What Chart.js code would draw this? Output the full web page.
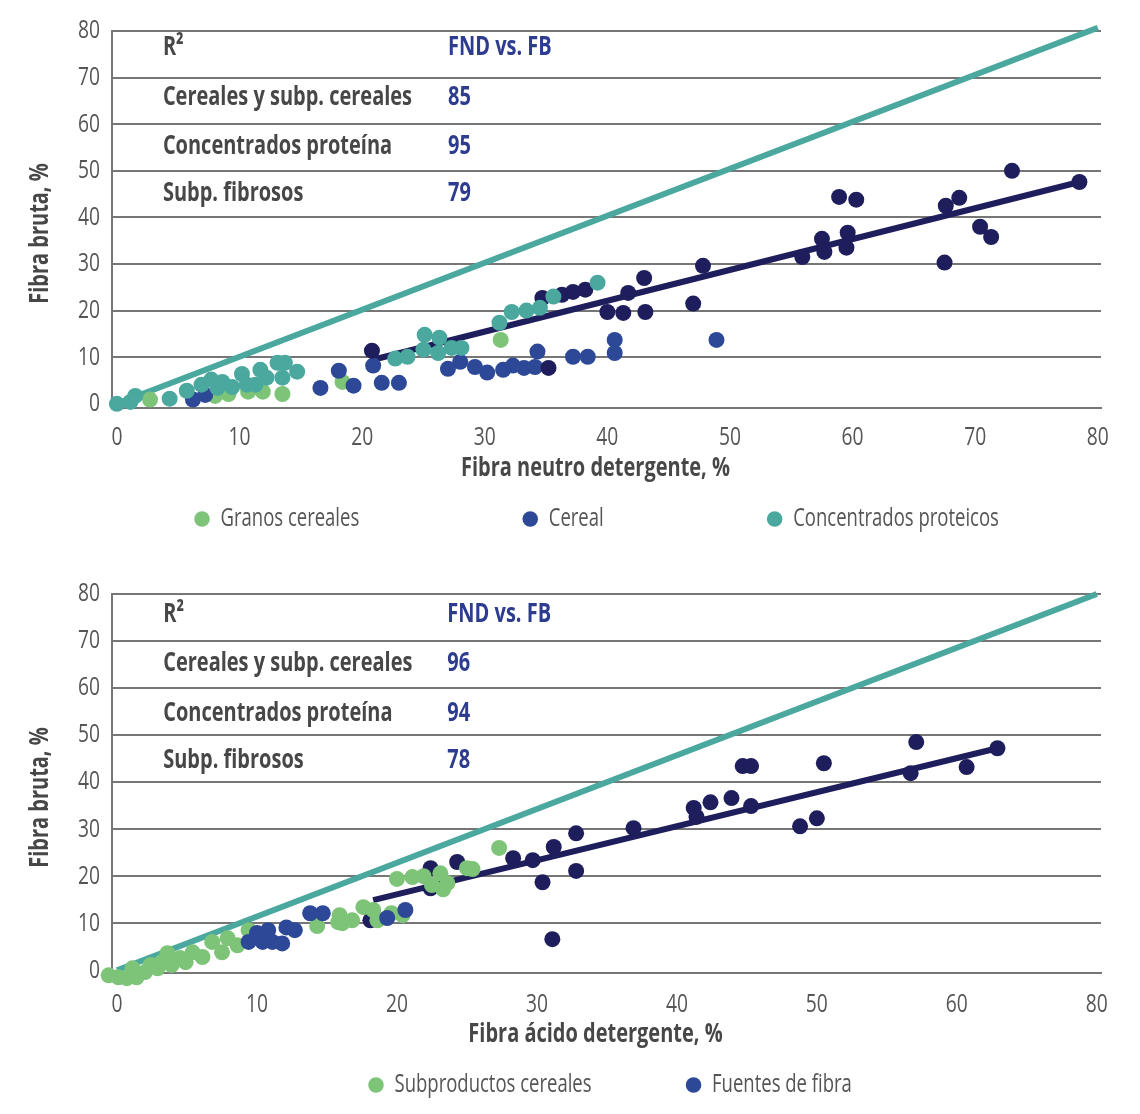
<!DOCTYPE html>
<html><head><meta charset="utf-8">
<script src="https://cdn.jsdelivr.net/npm/chart.js@4/dist/chart.umd.min.js"></script>
<style>
html,body{margin:0;padding:0;background:#fff;}
#w1{position:absolute;left:0;top:0;width:1140px;height:550px;}
#w2{position:absolute;left:0;top:560px;width:1140px;height:554px;}
</style></head><body>
<div id="w1"><canvas id="c1" width="1140" height="550"></canvas></div>
<div id="w2"><canvas id="c2" width="1140" height="554"></canvas></div>
<script>
// ---------- DATA ----------
// Chart 1: FND (x) vs FB (y)
const granosCereales = [[2.7,0.9],[8.0,1.7],[9.1,2.1],[10.7,2.6],[11.9,2.6],[13.5,2.1],[18.4,4.7],[31.3,13.7]];
const cereal = [[6.2,0.9],[7.2,1.9],[16.6,3.4],[18.1,7.1],[19.3,3.9],[20.9,8.2],[21.6,4.5],[23.0,4.5],[27.0,7.5],[28.0,9.0],[29.2,7.9],[30.2,6.7],[31.5,7.3],[32.3,8.2],[33.2,7.7],[34.1,7.9],[34.3,11.2],[37.2,10.1],[38.4,10.1],[40.6,13.7],[40.6,10.9],[48.9,13.7]];
const concentradosProteicos = [[0,0],[1.1,0.4],[1.5,1.7],[4.3,1.1],[5.7,2.8],[6.9,4.1],[7.7,5.2],[8.2,3.4],[8.6,4.7],[9.4,3.6],[10.2,6.4],[10.6,4.1],[11.3,4.1],[11.7,7.3],[12.2,5.6],[13.1,8.8],[13.7,8.8],[13.5,5.6],[14.7,6.9],[22.7,9.7],[23.7,10.1],[25.1,14.8],[25.0,11.6],[26.3,14.2],[26.2,10.9],[27.3,12.0],[28.1,12.0],[31.2,17.4],[32.2,19.7],[33.4,20.0],[34.5,20.6],[35.6,23.0],[39.2,26.0]];
const subpFibrosos1 = [[20.8,11.4],[35.2,7.7],[34.7,22.7],[36.3,23.4],[37.2,24.0],[38.2,24.5],[40.0,19.7],[41.3,19.5],[41.7,23.8],[43.0,27.0],[43.1,19.7],[47.0,21.5],[47.8,29.6],[55.9,31.5],[57.5,35.4],[57.7,32.6],[58.9,44.4],[60.3,43.8],[59.6,36.7],[59.5,33.5],[67.5,30.3],[67.6,42.5],[68.7,44.2],[70.4,38.0],[71.3,35.8],[73.0,50.0],[78.5,47.6]];
const refLine1 = [[0,0],[80,80.7]];
const fitLine1 = [[20.8,9.4],[78.5,47.6]];

// Chart 2: FAD (x) vs FB (y)
const subproductosCereales = [[-0.6,-1.1],[0.1,-1.5],[0.7,-1.7],[1.4,-1.5],[1.1,0.4],[2.0,-0.4],[2.4,1.1],[2.9,0.4],[3.2,1.7],[3.6,3.6],[3.9,1.1],[4.5,2.6],[4.9,1.7],[5.4,3.8],[6.1,2.8],[6.8,6.0],[7.5,3.8],[7.9,6.8],[8.6,5.3],[9.4,8.5],[14.3,9.4],[15.8,10.2],[15.9,11.7],[16.1,10.0],[16.8,10.6],[17.6,13.4],[18.3,12.8],[18.6,10.6],[19.6,12.1],[20.4,11.7],[20.0,19.4],[21.1,19.8],[21.9,20.0],[22.5,18.1],[23.1,20.6],[23.3,17.2],[23.6,18.5],[25.0,21.7],[25.4,21.5],[27.3,26.0]];
const fuentesFibra = [[9.4,6.0],[10.0,7.9],[10.4,6.0],[10.8,8.5],[11.1,6.0],[11.8,5.7],[12.1,9.1],[12.7,8.5],[13.8,12.1],[14.7,12.1],[19.3,11.1],[20.6,12.8]];
const subpFibrosos2 = [[18.1,10.6],[22.4,21.7],[22.4,17.4],[24.3,23.0],[28.3,23.8],[29.7,23.4],[30.4,18.7],[31.2,26.2],[31.1,6.6],[32.8,29.1],[32.8,21.1],[36.9,30.2],[41.2,34.5],[41.4,32.6],[42.4,35.7],[43.9,36.6],[45.3,34.9],[44.7,43.4],[45.3,43.4],[48.8,30.6],[50.0,32.3],[50.5,44.0],[56.7,41.9],[57.1,48.5],[60.7,43.2],[62.9,47.2]];
const refLine2 = [[0,0],[70,80]];
const fitLine2 = [[18.3,14.9],[62.9,47.2]];

// Tick labels / texts
const yTickValues = [0,10,20,30,40,50,60,70,80];
const xTickLabels1 = ['0','10','20','30','40','50','60','70','80'];
const xTickLabels2 = ['0','10','20','30','40','50','60','80'];
const yTitle = 'Fibra bruta, %';
const xTitle1 = 'Fibra neutro detergente, %';
const xTitle2 = 'Fibra ácido detergente, %';
const tableLabels = ['R²','Cereales y subp. cereales','Concentrados proteína','Subp. fibrosos'];
const tableValues1 = ['FND vs. FB','85','95','79'];
const tableValues2 = ['FND vs. FB','96','94','78'];

// ---------- STYLE ----------
const FONT = "'Open Sans','DejaVu Sans',sans-serif";
const SX = 0.74; // horizontal condensing of all canvas text (reference uses a condensed face)
(function(){
  const P = CanvasRenderingContext2D.prototype;
  const _fill = P.fillText, _meas = P.measureText;
  P.fillText = function(t, x, y, mw){
    this.save(); this.translate(x, y); this.scale(SX, 1);
    if (mw !== undefined) _fill.call(this, t, 0, 0, mw / SX); else _fill.call(this, t, 0, 0);
    this.restore();
  };
  P.measureText = function(t){
    const m = _meas.call(this, t);
    return {width: m.width * SX,
      actualBoundingBoxLeft: m.actualBoundingBoxLeft * SX, actualBoundingBoxRight: m.actualBoundingBoxRight * SX,
      actualBoundingBoxAscent: m.actualBoundingBoxAscent, actualBoundingBoxDescent: m.actualBoundingBoxDescent,
      fontBoundingBoxAscent: m.fontBoundingBoxAscent, fontBoundingBoxDescent: m.fontBoundingBoxDescent};
  };
})();
const C_GREEN = '#7dc478', C_BLUE = '#2c4896', C_TEAL = '#4aa89e', C_NAVY = '#1f1e5c';
const GRID = '#767676', TICK = '#555555', TITLE = '#474747', VALUE = '#2d3c8e';
Chart.defaults.font.family = FONT;

const toXY = arr => arr.map(p => ({x:p[0], y:p[1]}));

function pts(label, data, color, order, inLegend){
  return {label, data: toXY(data), backgroundColor: color, borderColor: color, pointBackgroundColor: color,
    pointBorderColor: color, pointRadius: 8, pointHoverRadius: 8, borderWidth: 0, pointBorderWidth: 0,
    order, clip: false, inLegend};
}
function line(label, data, color, width, order){
  return {label, data: toXY(data), showLine: true, borderColor: color, backgroundColor: color, borderWidth: width,
    pointRadius: 0, pointHoverRadius: 0, borderCapStyle: 'butt', order, clip: false, inLegend: false};
}

// R² table + axis titles drawn on the canvas
const textPlugin = {
  id: 'r2table',
  afterDatasetsDraw(chart, args, o) {
    const {ctx, chartArea: a} = chart; const x = chart.scales.x, y = chart.scales.y;
    ctx.save();
    ctx.font = 'bold 27px ' + FONT;
    ctx.textBaseline = 'middle'; ctx.textAlign = 'left';
    o.labels.forEach((t, i) => {
      const yy = y.getPixelForValue(o.rowY[i]);
      ctx.fillStyle = TITLE; ctx.fillText(t, x.getPixelForValue(o.labelX), yy);
      ctx.fillStyle = VALUE; ctx.fillText(o.values[i], x.getPixelForValue(o.valueX), yy);
    });
    ctx.fillStyle = TITLE; ctx.textAlign = 'center';
    ctx.fillText(o.xTitle, (a.left + a.right) / 2 + o.xTitleDX, a.bottom + o.xTitleDY);
    ctx.save();
    ctx.translate(o.yTitleX, (a.top + a.bottom) / 2 + o.yTitleDY);
    ctx.rotate(-Math.PI / 2);
    ctx.fillText(o.yTitle, 0, 0);
    ctx.restore();
    ctx.restore();
  }
};
// place the (single-row) legend: first item at firstX, row centred on centerY
const legendShift = {
  id: 'legendShift',
  afterLayout(chart, args, o) {
    const lg = chart.legend; if (!lg || !lg.legendHitBoxes) return;
    const P = lg.options.labels.padding;
    const total = lg.legendHitBoxes.reduce((s, hb) => s + hb.width + P, 0);
    lg.lineWidths = [total];
    lg.left = o.firstX - P;
    lg.right = o.firstX + total;
    lg.top = o.centerY - P - o.fontSize / 2;
    lg.bottom = o.centerY + o.fontSize;
  }
};

function makeChart(id, cfg){
  return new Chart(document.getElementById(id), {
    type: 'scatter',
    data: {datasets: cfg.datasets},
    plugins: [textPlugin, legendShift],
    options: {
      responsive: false, animation: false, events: [],
      layout: {padding: {top: cfg.padTop, right: 39, bottom: 12, left: 0}},
      scales: {
        x: {type: 'linear', min: cfg.xMin, max: cfg.xMax,
          afterFit(s){ s.height = cfg.xAxisH; },
          afterBuildTicks(s){ s.ticks = s.ticks.filter(t => t.value >= 0 && Math.abs(t.value % 10) < 1e-6); },
          ticks: {stepSize: 10, includeBounds: false, padding: cfg.xTickPad, color: TICK, font: {size: 26}, maxRotation: 0,
            callback: (v, i) => cfg.xLabels[i]},
          grid: {display: false, drawTicks: false},
          border: {display: true, color: GRID, width: 2},
          title: {display: false}
        },
        y: {min: cfg.yMin, max: 80,
          afterFit(s){ s.width = 112; },
          afterBuildTicks(s){ s.ticks = yTickValues.map(v => ({value: v})); },
          ticks: {padding: 12, color: TICK, font: {size: 26}},
          grid: {color: c => (c.tick && c.tick.value === 0) ? 'rgba(0,0,0,0)' : GRID, lineWidth: 2, drawTicks: false},
          border: {display: true, color: GRID, width: 2},
          title: {display: false}
        }
      },
      plugins: {
        tooltip: {enabled: false},
        legend: {position: 'bottom', align: 'center', maxHeight: cfg.legendH,
          labels: {usePointStyle: true, pointStyle: 'circle', boxWidth: 12, boxHeight: 11, padding: cfg.legendPad,
            color: TICK, font: {size: 25},
            filter: (item, data) => data.datasets[item.datasetIndex].inLegend,
            sort: (a, b) => a.datasetIndex - b.datasetIndex}
        },
        legendShift: {firstX: cfg.legendX, centerY: cfg.legendY, fontSize: 25},
        r2table: {labels: tableLabels, values: cfg.tableValues, labelX: cfg.labelX, valueX: cfg.valueX, rowY: cfg.rowY,
          xTitle: cfg.xTitle, yTitle: yTitle, xTitleDX: -11, xTitleDY: cfg.xTitleDY, yTitleX: 40, yTitleDY: 14}
      }
    }
  });
}

makeChart('c1', {
  datasets: [
    pts('Granos cereales', granosCereales, C_GREEN, 4, true),
    pts('Cereal', cereal, C_BLUE, 3, true),
    pts('Concentrados proteicos', concentradosProteicos, C_TEAL, 1, true),
    pts('Subp. fibrosos', subpFibrosos1, C_NAVY, 2, false),
    line('Regresión', fitLine1, C_NAVY, 6, 5),
    line('1:1', refLine1, C_TEAL, 6, 6)
  ],
  padTop: 31, xMin: -0.4, xMax: 80.26, yMin: -0.9, xAxisH: 80, xTickPad: 14, xLabels: xTickLabels1,
  xTitle: xTitle1, xTitleDY: 60, legendH: 50, legendPad: 165, legendX: 196, legendY: 519,
  tableValues: tableValues1, labelX: 3.75, valueX: 27.0, rowY: [76.4, 65.7, 55.2, 45.1]
});

makeChart('c2', {
  datasets: [
    pts('Subproductos cereales', subproductosCereales, C_GREEN, 2, true),
    pts('Fuentes de fibra', fuentesFibra, C_BLUE, 1, true),
    pts('Subp. fibrosos', subpFibrosos2, C_NAVY, 3, false),
    line('Regresión', fitLine2, C_NAVY, 6, 5),
    line('1:1', refLine2, C_TEAL, 6, 6)
  ],
  padTop: 34, xMin: -0.36, xMax: 70.3, yMin: -0.6, xAxisH: 81, xTickPad: 16, xLabels: xTickLabels2,
  xTitle: xTitle2, xTitleDY: 61, legendH: 48, legendPad: 96, legendX: 370, legendY: 525,
  tableValues: tableValues2, labelX: 3.3, valueX: 23.6, rowY: [75.7, 65.3, 54.7, 44.7]
});
</script>
</body></html>
